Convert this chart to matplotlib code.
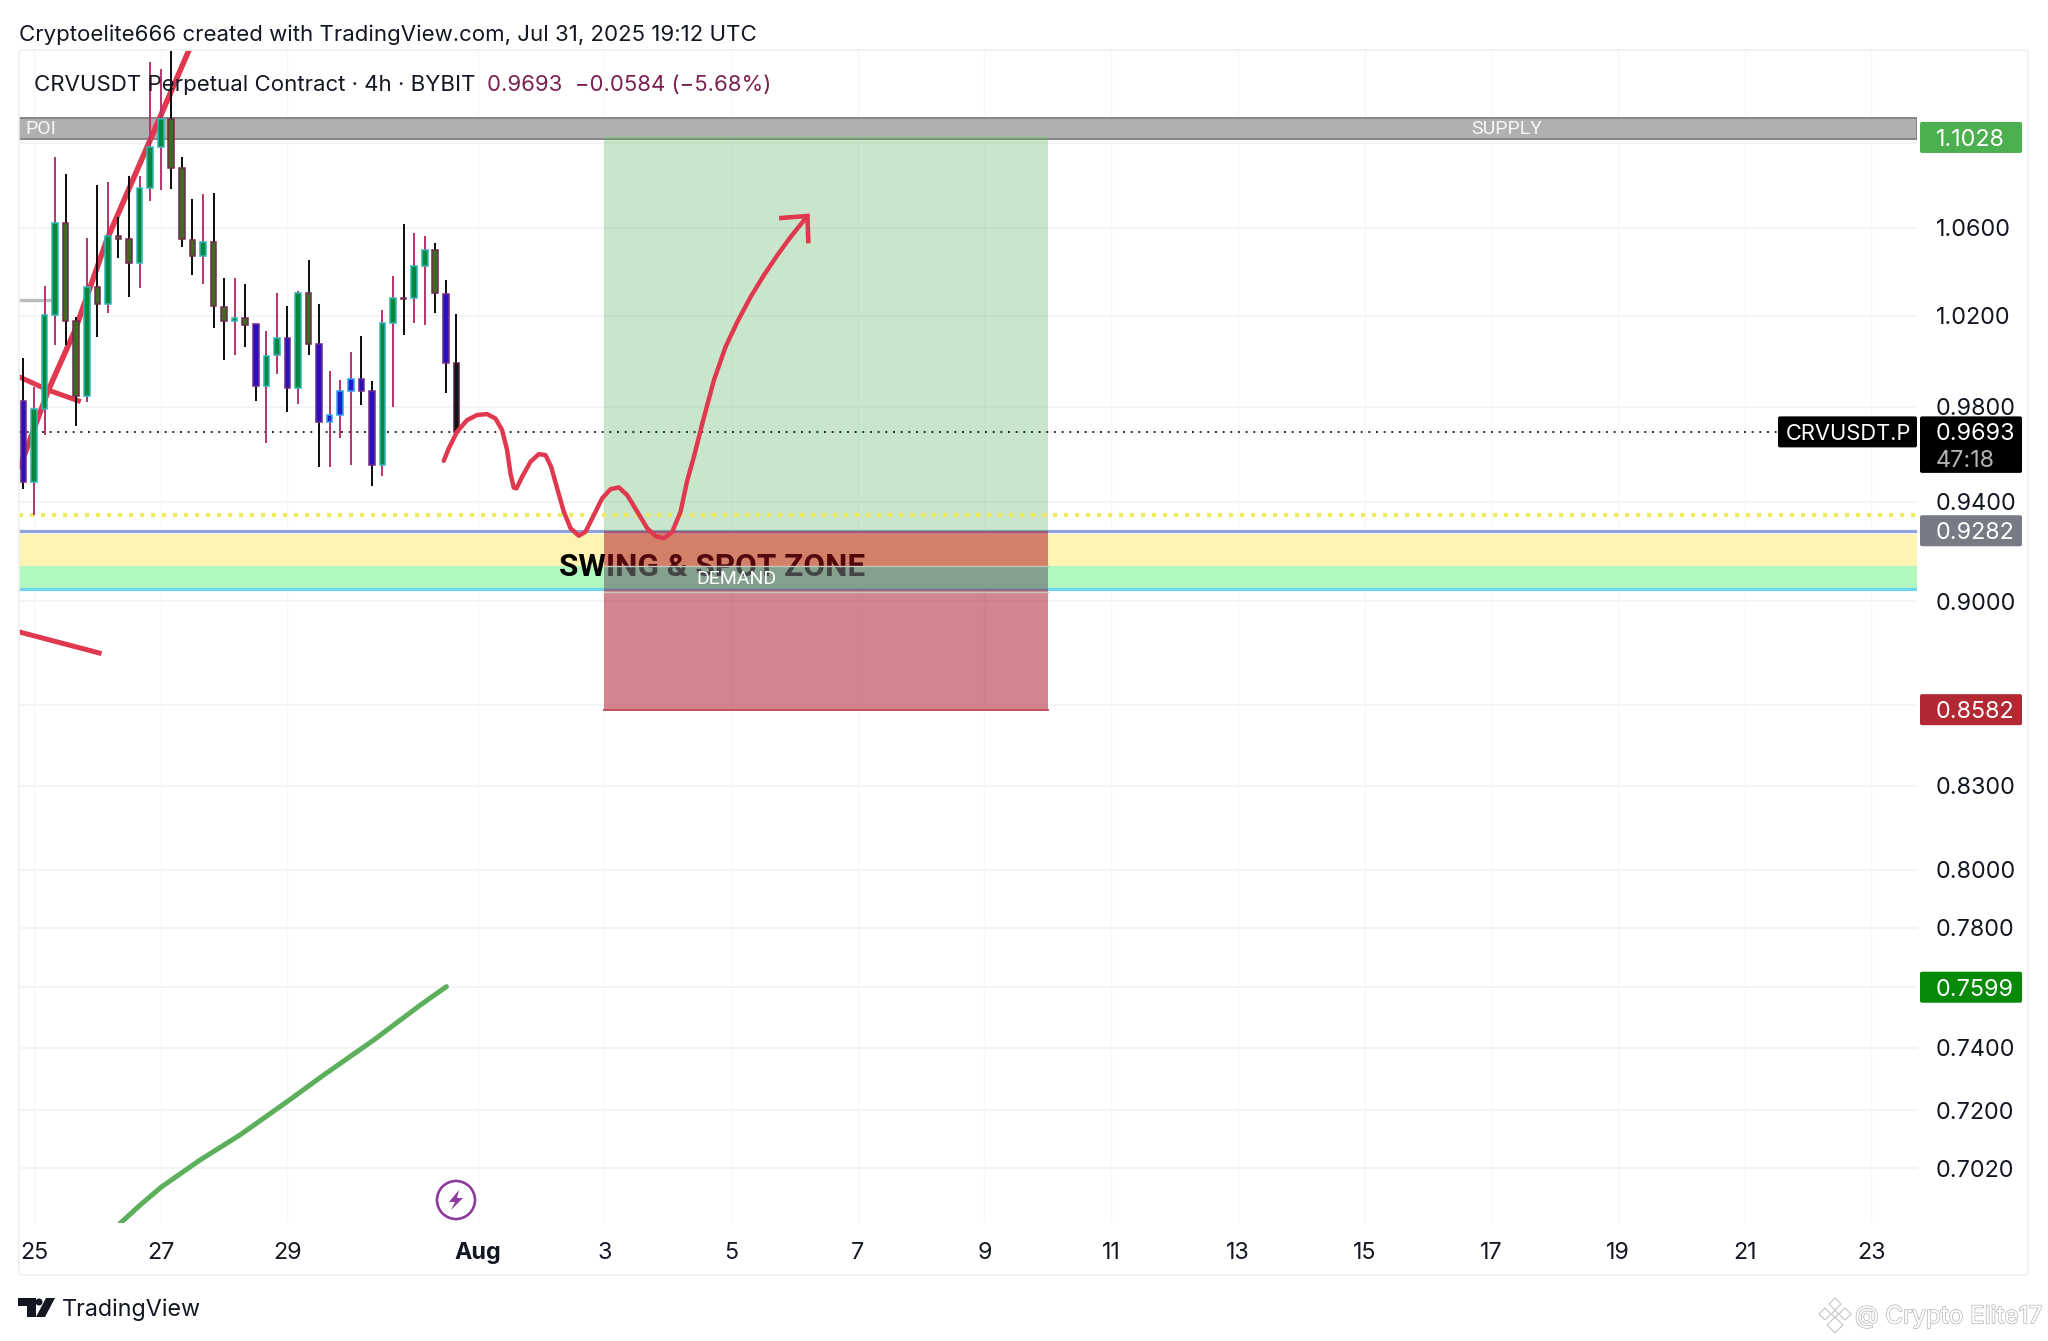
#CRVUSDT 4h chart with hand drawn projection
import matplotlib
matplotlib.use('Agg')
import numpy as np
import matplotlib.pyplot as plt
import matplotlib.patheffects as pe
from matplotlib.patches import FancyBboxPatch, Rectangle, Ellipse, Polygon

plt.rcParams['font.family'] = ['Inter', 'DejaVu Sans']

#candles, x is bar number, 6 bars per day, bar 1 = Jul 25
opens = [0.9826, 0.9484, 0.9790, 1.0201, 1.0622, 1.0177, 0.9846, 1.0330, 1.0251, 1.0560, 1.0549, 1.0437, 1.0787, 1.0983,
         1.1119, 1.0881, 1.0544, 1.0472, 1.0535, 1.0239, 1.0177, 1.0189, 1.0161, 0.9892, 1.0025, 1.0098, 0.9882, 1.0302,
         1.0075, 0.9733, 0.9765, 0.9869, 0.9919, 0.9869, 0.9553, 1.0165, 1.0281, 1.0277, 1.0425, 1.0497, 1.0299, 0.9988]
closes = [0.9484, 0.9789, 1.0201, 1.0622, 1.0177, 0.9846, 1.0330, 1.0251, 1.0560, 1.0549, 1.0437, 1.0787, 1.0983, 1.1119,
          1.0881, 1.0546, 1.0472, 1.0535, 1.0241, 1.0177, 1.0190, 1.0160, 0.9892, 1.0023, 1.0098, 0.9882, 1.0302, 1.0075,
          0.9733, 0.9765, 0.9869, 0.9919, 0.9869, 0.9553, 1.0165, 1.0277, 1.0276, 1.0424, 1.0497, 1.0300, 0.9988, 0.9693]
highs = [1.0013, 0.9887, 1.0333, 1.0932, 1.0851, 1.0195, 1.0555, 1.0799, 1.0816, 1.0651, 1.0843, 1.0843, 1.1400, 1.1363,
         1.1453, 1.0935, 1.0733, 1.0759, 1.0762, 1.0370, 1.0370, 1.0340, 1.0162, 1.0132, 1.0300, 1.0244, 1.0312, 1.0451,
         1.0252, 0.9955, 0.9914, 1.0040, 1.0109, 0.9910, 1.0225, 1.0378, 1.0616, 1.0575, 1.0563, 1.0528, 1.0358, 1.0207]
lows = [0.9452, 0.9346, 0.9680, 1.0069, 1.0069, 0.9719, 0.9822, 1.0106, 1.0213, 1.0459, 1.0284, 1.0325, 1.0725, 1.0777,
        1.0781, 1.0509, 1.0381, 1.0343, 1.0143, 1.0003, 1.0025, 1.0062, 0.9825, 0.9647, 0.9942, 0.9776, 0.9811, 1.0026,
        0.9546, 0.9543, 0.9665, 0.9553, 0.9809, 0.9466, 0.9509, 0.9800, 1.0115, 1.0165, 1.0159, 1.0210, 0.9858, 0.9693]
kinds = ['b', 'g', 'g', 'g', 'o', 'o', 'g', 'o', 'g', 'o', 'o', 'g', 'g', 'g',
         'o', 'o', 'o', 'g', 'o', 'o', 'g', 'o', 'b', 'g', 'g', 'b', 'g', 'o',
         'b', 'c', 'c', 'c', 'b', 'b', 'g', 'g', 'o', 'g', 'g', 'o', 'b', 'k']

#grid and axis labels
price_ticks = [1.10, 1.06, 1.02, 0.98, 0.94, 0.90, 0.86, 0.83, 0.80, 0.78, 0.76, 0.74, 0.72, 0.702]
price_labels = ['', '1.0600', '1.0200', '0.9800', '0.9400', '0.9000', '', '0.8300', '0.8000', '0.7800', '',
                '0.7400', '0.7200', '0.7020']
day_ticks = [0, 2, 4, 7, 9, 11, 13, 15, 17, 19, 21, 23, 25, 27, 29]
day_labels = ['25', '27', '29', 'Aug', '3', '5', '7', '9', '11', '13', '15', '17', '19', '21', '23']

#zones and position tool
supply_zone = [1.1020, 1.1122]
yellow_zone = [0.9140, 0.9269]
green_zone = [0.9048, 0.9140]
yellow_dots = 0.9346
last_price = 0.9693
target = 1.1028
entry = 0.9282
stop = 0.8582
other_tag = 0.7599
box_days = [9, 16.01]

#drawings
curve_days = [6.467, 6.546, 6.677, 6.835, 6.993, 7.151, 7.283, 7.388, 7.467, 7.520, 7.572, 7.615, 7.704, 7.836, 7.967,
              8.073, 8.162, 8.257, 8.362, 8.468, 8.599, 8.705, 8.836, 8.968, 9.100, 9.231, 9.363, 9.521, 9.679, 9.811,
              9.942, 10.074, 10.205, 10.311, 10.416, 10.548, 10.732, 10.916, 11.101, 11.311, 11.522, 11.733, 11.943, 12.207]
curve_prices = [0.9571, 0.9623, 0.9694, 0.9743, 0.9765, 0.9769, 0.9750, 0.9701, 0.9616, 0.9518, 0.9459, 0.9456, 0.9504,
                0.9567, 0.9599, 0.9595, 0.9546, 0.9456, 0.9360, 0.9292, 0.9262, 0.9278, 0.9346, 0.9415, 0.9453, 0.9460,
                0.9428, 0.9360, 0.9292, 0.9260, 0.9251, 0.9278, 0.9360, 0.9490, 0.9588, 0.9729, 0.9916, 1.0062, 1.0172,
                1.0284, 1.0383, 1.0474, 1.0558, 1.0655]
head_days = [11.759, 12.207, 12.222]
head_prices = [1.0645, 1.0655, 1.0528]
trend_days = [-0.221, 0.2265, 0.648, 1.148, 1.991, 2.438]
trend_prices = [0.9546, 0.9872, 1.0135, 1.0543, 1.1128, 1.1453]
kink_days = [-0.237, 0.2265, 0.70]
kink_prices = [0.9930, 0.9872, 0.9826]
low_days = [-0.227, 1.027]
low_prices = [0.8879, 0.8798]
green_days = [1.359, 1.675, 2.017, 2.622, 3.254, 3.992, 4.571, 5.361, 6.098, 6.509]
green_prices = [0.6852, 0.6907, 0.6963, 0.7045, 0.7123, 0.7227, 0.7312, 0.7425, 0.7540, 0.7601]
gray_days = [-0.237, 0.25]
gray_price = 1.0269

W, H = 2048, 1341
body_colors = {'g': '#07873a', 'o': '#3d6b1f', 'b': '#2a0fbe', 'c': '#1a1fd0', 'k': '#111111'}
edge_colors = {'g': '#2fb5b5', 'o': '#6d2c52', 'b': '#6d2c8a', 'c': '#2fa0e8', 'k': '#5a2040'}
red = '#e0394f'
dark = '#131722'
label_size = 16.8

fig = plt.figure(figsize=(W / 100, H / 100), dpi=100, facecolor='white')
ax = fig.add_axes([19 / W, 1 - 1223 / H, (1917 - 19) / W, (1223 - 50) / H])
ax.set_yscale('log')
ax.set_xlim(-0.237, 29.72)
ax.set_ylim(0.6853, 1.1459)
for s in ax.spines.values():
    s.set_visible(False)

ax.yaxis.tick_right()
ax.set_yticks(price_ticks, price_labels)
ax.minorticks_off()
ax.set_xticks(day_ticks, day_labels)
ax.tick_params(axis='y', length=0, pad=13.5, labelsize=label_size, labelcolor=dark)
ax.tick_params(axis='x', length=0, pad=13.5, labelsize=label_size, labelcolor=dark)
ax.get_xticklabels()[3].set_fontweight('bold')
ax.grid(True, axis='y', color='#f0f1f3', lw=1.1)
ax.grid(True, axis='x', color='#f6f7f8', lw=1.0)
ax.set_axisbelow(True)

#zones
ax.axhspan(supply_zone[0], supply_zone[1], facecolor='#b0b0b0', edgecolor='#808080', lw=1.3, zorder=1)
ax.axhspan(yellow_zone[0], yellow_zone[1], color='#fef4b2', lw=0, zorder=1)
ax.axhspan(green_zone[0], green_zone[1], color='#b0f8c0', lw=0, zorder=1)
ax.axhline(entry, color='#8fa3d8', lw=2.3, zorder=1.2)
ax.axhline(green_zone[0], color='#6ed5ea', lw=2.3, zorder=1.2)
ax.axhline(yellow_dots, color='#efeb5a', lw=3, ls=(0, (1, 1.64)), zorder=3)
ax.text(-0.14, 1.1071, 'POI', color='white', fontsize=14, family='Roboto', va='center', alpha=0.9, zorder=6)
ax.text(23.25, 1.1071, 'SUPPLY', color='white', fontsize=14, family='Roboto', va='center', ha='center', alpha=0.9, zorder=6)
ax.text(8.29, 0.9135, 'SWING & SPOT ZONE', color='black', fontsize=22.7, family='Roboto', fontweight='bold', va='center', zorder=1.5)

#position tool
ax.add_patch(Rectangle((box_days[0], entry), box_days[1] - box_days[0], target - entry,
                       facecolor='#4caf50', alpha=0.3, lw=0, zorder=2))
ax.add_patch(Rectangle((box_days[0], stop), box_days[1] - box_days[0], entry - stop,
                       facecolor='#a90d1f', alpha=0.5, lw=0, zorder=2))
ax.add_patch(Rectangle((box_days[0], green_zone[0]), box_days[1] - box_days[0], green_zone[1] - green_zone[0],
                       facecolor='#14ffec', alpha=0.25, lw=0, zorder=2.1))
ax.plot(box_days, [green_zone[1], green_zone[1]], color='#c4c8bc', lw=1, zorder=2.2)
ax.plot(box_days, [green_zone[0] * 0.9985, green_zone[0] * 0.9985], color='#c4c8bc', lw=1, zorder=2.2)
ax.plot(box_days, [target, target], color='#8cc48e', lw=1, zorder=2.2)
ax.plot(box_days, [stop, stop], color='#c2505f', lw=1.4, zorder=2.2)
ax.text(11.08, 0.9088, 'DEMAND', color='white', fontsize=14, family='Roboto', va='center', ha='center', zorder=6)

ax.plot([ax.get_xlim()[0], 27.55], [last_price, last_price], color='black', lw=1.15, ls=(0, (1.2, 3.6)), zorder=3)

#drawings below the candles
ax.plot(gray_days, [gray_price, gray_price], color='#bcbcbc', lw=2.4, zorder=3)
ax.plot(trend_days, trend_prices, color=red, lw=4, zorder=3.2)
ax.plot(kink_days, kink_prices, color=red, lw=3.6, zorder=3.2)
ax.plot(low_days, low_prices, color=red, lw=3.6, zorder=3.2)
ax.plot(green_days, green_prices, color='#5cb05c', lw=3.6, solid_capstyle='round', zorder=3.2)

#candles
bars = (np.arange(len(opens)) - 1) / 6
wick_colors = ['#b8336a' if c > o else '#0a0a0a' for o, c in zip(opens, closes)]
ax.vlines(bars, lows, highs, colors=wick_colors, lw=1.4, zorder=4)
bottoms = np.minimum(opens, closes)
heights = np.abs(np.array(closes) - np.array(opens))
ax.bar(bars, heights, 5.6 / 63.3, bottoms, color=[body_colors[k] for k in kinds],
       edgecolor=[edge_colors[k] for k in kinds], lw=1.1, zorder=4.2)

ax.plot(curve_days, curve_prices, color=red, lw=3.2, solid_capstyle='round', solid_joinstyle='round', zorder=5)
ax.plot(head_days, head_prices, color=red, lw=3.3, solid_capstyle='butt', solid_joinstyle='miter', zorder=5)

#everything outside the price area, in picture pixels
over = fig.add_axes([0, 0, 1, 1])
over.set_xlim(0, W)
over.set_ylim(H, 0)
over.axis('off')
over.patch.set_alpha(0)

def price_y(p):
    return H - ax.transData.transform((0, p))[1]

def tag(y0, y1, x0, x1, color):
    over.add_patch(FancyBboxPatch((x0 + 2, y0 + 2), x1 - x0 - 4, y1 - y0 - 4, boxstyle='round,pad=2,rounding_size=2',
                                  facecolor=color, edgecolor='none'))

def price_tag(p, text, color):
    y = price_y(p)
    tag(y - 15.5, y + 15.5, 1920, 2022, color)
    over.text(1936, y, text, color='white', fontsize=label_size, va='center_baseline')

over.add_patch(FancyBboxPatch((19, 50), 2009, 1225, boxstyle='round,pad=0,rounding_size=4',
                              facecolor='none', edgecolor='#eff0f2', lw=1.2))
price_tag(target, '1.1028', '#4caf50')
price_tag(entry, '0.9282', '#787b86')
price_tag(stop, '0.8582', '#b22833')
price_tag(other_tag, '0.7599', '#078a07')
y = price_y(last_price)
tag(y - 15.5, y + 41, 1920, 2022, 'black')
tag(y - 15.5, y + 15.5, 1778, 1917, 'black')
over.text(1936, y, '0.9693', color='white', fontsize=label_size, va='center_baseline')
over.text(1936, y + 27, '47:18', color='#b5b5b5', fontsize=label_size, va='center_baseline')
over.text(1786, y, 'CRVUSDT.P', color='white', fontsize=15.8, va='center_baseline')

over.text(19, 33, 'Cryptoelite666 created with TradingView.com, Jul 31, 2025 19:12 UTC', color=dark,
          fontsize=16, va='center_baseline')
over.text(34, 83, 'CRVUSDT Perpetual Contract · 4h · BYBIT', color=dark, fontsize=16, va='center_baseline')
over.text(487, 83, '0.9693  −0.0584 (−5.68%)', color='#7b1f4e', fontsize=15.9, va='center_baseline')

#lightning mark
over.add_patch(Ellipse((456, 1200), 38, 38, facecolor='white', edgecolor='#8e3aa0', lw=1.9))
over.add_patch(Polygon([(459, 1190), (449, 1202), (455, 1202), (451, 1210), (463, 1198), (457, 1198)],
                       facecolor='#8e3aa0', edgecolor='none'))

#TradingView logo
over.add_patch(Polygon([(18, 1298), (36, 1298), (36, 1317), (27, 1317), (27, 1306), (18, 1306)], facecolor=dark, edgecolor='none'))
over.add_patch(Ellipse((39, 1302), 7, 7, facecolor=dark, edgecolor='none'))
over.add_patch(Polygon([(46, 1298), (55, 1298), (45, 1317), (36, 1317)], facecolor=dark, edgecolor='none'))
over.text(62, 1307, 'TradingView', color=dark, fontsize=16.8, va='center_baseline')

#watermark
halo = [pe.withStroke(linewidth=1.1, foreground='#b9b9b9')]
over.text(1855, 1314, '@ Crypto Elite17', color='white', fontsize=17.5, va='center_baseline', path_effects=halo)
for dx, dy, s in [(0, -10, 6), (-10, 0, 6), (10, 0, 6), (0, 0, 3.5), (0, 11, 8)]:
    over.add_patch(Polygon([(1835 + dx, 1314 + dy - s), (1835 + dx + s, 1314 + dy), (1835 + dx, 1314 + dy + s),
                            (1835 + dx - s, 1314 + dy)], facecolor='white', edgecolor='#c4c4c4', lw=0.8))

fig.savefig('out.png', dpi=100)
